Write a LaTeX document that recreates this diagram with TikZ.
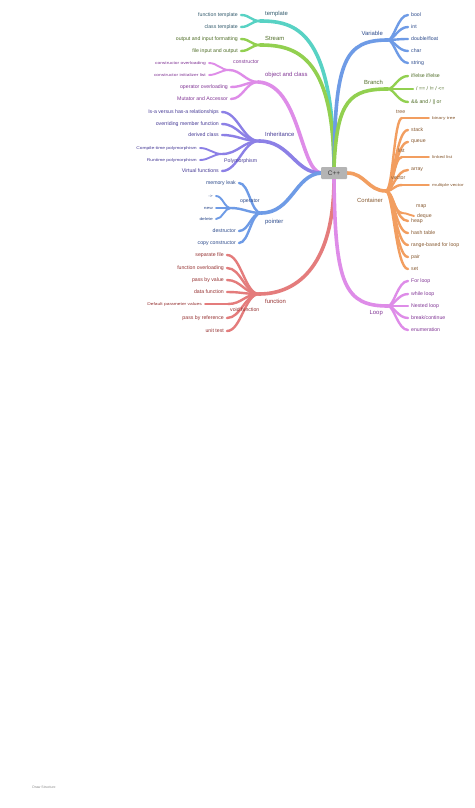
\documentclass[tikz,border=0pt]{standalone}
\usepackage{fontspec}
\setmainfont{Liberation Sans}
\newfontfamily\widesans[FakeStretch=1.25]{Liberation Sans}
\definecolor{cT}{RGB}{88,210,196}
\definecolor{cG}{RGB}{146,208,80}
\definecolor{cV}{RGB}{222,140,232}
\definecolor{cP}{RGB}{140,128,230}
\definecolor{cB}{RGB}{110,155,230}
\definecolor{cR}{RGB}{228,124,124}
\definecolor{cO}{RGB}{242,158,96}
\definecolor{tT}{RGB}{52,92,110}
\definecolor{tG}{RGB}{80,110,40}
\definecolor{tV}{RGB}{130,55,150}
\definecolor{tP}{RGB}{70,58,150}
\definecolor{tB}{RGB}{45,75,140}
\definecolor{tR}{RGB}{150,50,50}
\definecolor{tO}{RGB}{135,90,50}
\definecolor{cppfill}{RGB}{180,180,180}
\definecolor{cpptext}{RGB}{60,60,60}
\pgfdeclarelayer{back}
\pgfdeclarelayer{bg}
\pgfsetlayers{back,bg,main}
\begin{document}
\begin{tikzpicture}[x=1pt,y=-1pt,
  kidtext/.style={font=\fontsize{5.2}{6}\selectfont, inner ysep=0.5pt, inner xsep=3pt},
  smalltext/.style={font=\widesans\fontsize{3.9}{4.5}\selectfont, inner ysep=0.5pt, inner xsep=3pt},
  lk/.style={kidtext, anchor=east},
  rk/.style={kidtext, anchor=west},
  lks/.style={smalltext, anchor=east},
  rks/.style={smalltext, anchor=west},
  hl/.style={font=\fontsize{5.9}{7}\selectfont, inner sep=0pt},
  sl/.style={font=\fontsize{5.2}{6}\selectfont, inner sep=0pt},
  mainline/.style={line width=3.6pt, line cap=round},
  kidline/.style={line width=2.4pt, line cap=round},
  subline/.style={line width=1.9pt, line cap=round}]
\begin{pgfonlayer}{back}
\path[fill=white] (0,0) rectangle (474,808);
\end{pgfonlayer}

% centre
\node[fill=cppfill, rounded corners=1pt, minimum width=26pt, minimum height=12pt,
      inner sep=0pt, text=cpptext, font=\fontsize{6.5}{7}\selectfont] (cpp) at (334,173) {C++};

% hubs
\coordinate (tH) at (260,21);
\coordinate (sH) at (260,45);
\coordinate (oH) at (258,82);
\coordinate (ocH) at (229,70);
\coordinate (iH) at (259,141);
\coordinate (ipH) at (222,154);
\coordinate (pH) at (261,213);
\coordinate (poH) at (231,208);
\coordinate (fH) at (259,294);
\coordinate (fvH) at (228,304);
\coordinate (vH) at (388,40);
\coordinate (bH) at (388,89);
\coordinate (cH) at (386,191);
\coordinate (ctH) at (402,118);
\coordinate (clH) at (402,157);
\coordinate (cvH) at (402,185);
\coordinate (cmH) at (402,213);
\coordinate (lH) at (388,306);

% ---------- left side ----------
% template
\node[lk,text=tT] (t1) at (241,15) {function template};
\node[lk,text=tT] (t2) at (241,27) {class template};
\node[hl,text=tT,anchor=west] (tL) at (265,14) {template};
% Stream
\node[lk,text=tG] (s1) at (241,39) {output and input formatting};
\node[lk,text=tG] (s2) at (241,51) {file input and output};
\node[hl,text=tG,anchor=west] (sL) at (265,38) {Stream};
% object and class
\node[lks,text=tV] (oc1) at (209,63) {constructor overloading};
\node[lks,text=tV] (oc2) at (209,75) {constructor initializer list};
\node[sl,text=tV,anchor=west] (ocL) at (233,62) {constructor};
\node[lk,text=tV] (o2) at (231,87) {operator overloading};
\node[lk,text=tV] (o3) at (231,99) {Mutator and Accessor};
\node[hl,text=tV,anchor=west] (oL) at (265,75) {object and class};
% Inheritance
\node[lk,text=tP] (i1) at (222,112) {Is-a versus has-a relationships};
\node[lk,text=tP] (i2) at (222,124) {overriding member function};
\node[lk,text=tP] (i3) at (222,135) {derived class};
\node[lks,text=tP] (ip1) at (200,148) {Compile-time polymorphism};
\node[lks,text=tP] (ip2) at (200,160) {Runtime polymorphism};
\node[sl,text=tP,anchor=west] (ipL) at (224,161) {Polymorphism};
\node[lk,text=tP] (i4) at (222,171) {Virtual functions};
\node[hl,text=tP,anchor=west] (iL) at (265,134) {Inheritance};
% pointer
\node[lk,text=tB] (p1) at (239,183) {memory leak};
\node[lks,text=tB] (po1) at (216,196) {->};
\node[lks,text=tB] (po2) at (216,208) {new};
\node[lks,text=tB] (po3) at (216,219) {delete};
\node[sl,text=tB,anchor=west] (poL) at (240,201) {operator};
\node[lk,text=tB] (p2) at (239,231) {destructor};
\node[lk,text=tB] (p3) at (239,243) {copy constructor};
\node[hl,text=tB,anchor=west] (pL) at (265,222) {pointer};
% function
\node[lk,text=tR] (f1) at (227,255) {separate file};
\node[lk,text=tR] (f2) at (227,268) {function overloading};
\node[lk,text=tR] (f3) at (227,280) {pass by value};
\node[lk,text=tR] (f4) at (227,292) {data function};
\node[lks,text=tR] (fv1) at (205,304) {Default parameter values};
\node[sl,text=tR,anchor=west] (fvL) at (230,310) {void function};
\node[lk,text=tR] (f5) at (227,318) {pass by reference};
\node[lk,text=tR] (f6) at (227,331) {unit test};
\node[hl,text=tR,anchor=west] (fL) at (265,301) {function};

% ---------- right side ----------
% Variable
\node[rk,text=tB] (v1) at (408,15) {bool};
\node[rk,text=tB] (v2) at (408,27) {int};
\node[rk,text=tB] (v3) at (408,39) {double/float};
\node[rk,text=tB] (v4) at (408,51) {char};
\node[rk,text=tB] (v5) at (408,63) {string};
\node[hl,text=tB,anchor=east] (vL) at (383,33) {Variable};
% Branch
\node[rk,text=tG] (b1) at (408,76) {if/else if/else};
\node[rk,text=tG] (b2) at (413,89) {/ == / != / <=};
\node[rk,text=tG] (b3) at (408,102) {\&\& and / || or};
\node[hl,text=tG,anchor=east] (bL) at (383,82) {Branch};
% Container
\node[sl,text=tO,anchor=west] (ctL) at (396,112) {tree};
\node[rks,text=tO] (k1) at (429,118) {binary tree};
\node[rk,text=tO] (k2) at (408,130) {stack};
\node[rk,text=tO] (k3) at (408,142) {queue};
\node[sl,text=tO,anchor=west] (clL) at (398,151) {list};
\node[rks,text=tO] (k4) at (429,157) {linked list};
\node[rk,text=tO] (k5) at (408,170) {array};
\node[sl,text=tO,anchor=west] (cvL) at (391,178) {vector};
\node[rks,text=tO] (k6) at (429,185) {multiple vector};
\node[sl,text=tO,anchor=west] (cmL) at (416,207) {map};
\node[rk,text=tO] (k7) at (414,216) {deque};
\node[rk,text=tO] (k8) at (408,221) {heap};
\node[rk,text=tO] (k9) at (408,233) {hash table};
\node[rk,text=tO] (k10) at (408,245) {range-based for loop};
\node[rk,text=tO] (k11) at (408,257) {pair};
\node[rk,text=tO] (k12) at (408,269) {set};
\node[hl,text=tO,anchor=east] (cL) at (383,200) {Container};
% Loop
\node[rk,text=tV] (l1) at (408,281) {For loop};
\node[rk,text=tV] (l2) at (408,294) {while loop};
\node[rk,text=tV] (l3) at (408,306) {Nested loop};
\node[rk,text=tV] (l4) at (408,318) {break/continue};
\node[rk,text=tV] (l5) at (408,330) {enumeration};
\node[hl,text=tV,anchor=east] (lL) at (383,313) {Loop};

% footer
\node[font=\fontsize{3.5}{4}\selectfont, text=black!45, inner sep=0pt] (foot) at (44,787) {Draw Structure};

% ---------- connectors ----------
\begin{pgfonlayer}{bg}
% main branches
\draw[mainline,cT] (cpp.north) .. controls (333,30) and (295,21) .. (tH);
\draw[mainline,cG] (cpp.north) .. controls (333,55) and (295,45) .. (sH);
\draw[mainline,cV] (cpp.west) .. controls (300,170) and (300,84) .. (oH);
\draw[mainline,cP] (cpp.west) .. controls (295,173) and (290,141) .. (iH);
\draw[mainline,cB] (cpp.west) .. controls (295,175) and (292,213) .. (pH);
\draw[mainline,cR] (cpp.south) .. controls (334,262) and (300,294) .. (fH);
\draw[mainline,cB] (cpp.north) .. controls (335,60) and (345,40) .. (vH);
\draw[mainline,cG] (cpp.north) .. controls (337,100) and (350,89) .. (bH);
\draw[mainline,cO] (cpp.east) .. controls (365,173) and (368,191) .. (cH);
\draw[mainline,cV] (cpp.south) .. controls (335,285) and (345,306) .. (lH);

% left children
\foreach \c in {t1,t2} \draw[kidline,cT] (tH) .. controls +(-9,0) and +(9,0) .. (\c.east);
\foreach \c in {s1,s2} \draw[kidline,cG] (sH) .. controls +(-9,0) and +(9,0) .. (\c.east);
\foreach \c in {o2,o3} \draw[kidline,cV] (oH) .. controls +(-12,0) and +(12,0) .. (\c.east);
\draw[kidline,cV] (oH) .. controls +(-12,0) and +(12,0) .. (ocH);
\foreach \c in {oc1,oc2} \draw[subline,cV] (ocH) .. controls +(-8,0) and +(8,0) .. (\c.east);
\foreach \c in {i1,i2,i3,i4} \draw[kidline,cP] (iH) .. controls +(-16,0) and +(16,0) .. (\c.east);
\draw[kidline,cP] (iH) .. controls +(-16,0) and +(16,0) .. (ipH);
\foreach \c in {ip1,ip2} \draw[subline,cP] (ipH) .. controls +(-9,0) and +(9,0) .. (\c.east);
\foreach \c in {p1,p2,p3} \draw[kidline,cB] (pH) .. controls +(-10,0) and +(10,0) .. (\c.east);
\draw[kidline,cB] (pH) .. controls +(-12,0) and +(12,0) .. (poH);
\foreach \c in {po1,po2,po3} \draw[subline,cB] (poH) .. controls +(-7,0) and +(7,0) .. (\c.east);
\foreach \c in {f1,f2,f3,f4,f5,f6} \draw[kidline,cR] (fH) .. controls +(-14,0) and +(14,0) .. (\c.east);
\draw[kidline,cR] (fH) .. controls +(-14,0) and +(14,0) .. (fvH);
\draw[subline,cR] (fvH) -- (fv1.east);

% right children
\foreach \c in {v1,v2,v3,v4,v5} \draw[kidline,cB] (vH) .. controls +(6,0) and +(-10,0) .. (\c.west);
\foreach \c in {b1,b2,b3} \draw[kidline,cG] (bH) .. controls +(6,0) and +(-10,0) .. (\c.west);
\foreach \c in {k2,k3,k5,k8,k9,k10,k11,k12} \draw[kidline,cO] (cH) .. controls +(7,0) and +(-12,0) .. (\c.west);
\foreach \h in {ctH,clH,cvH,cmH} \draw[kidline,cO] (cH) .. controls +(7,0) and +(-8,0) .. (\h);
\draw[subline,cO] (ctH) -- (k1.west);
\draw[subline,cO] (clH) -- (k4.west);
\draw[subline,cO] (cvH) -- (k6.west);
\draw[subline,cO] (cmH) .. controls +(6,0) and +(-4,0) .. (k7.west);
\foreach \c in {l1,l2,l3,l4,l5} \draw[kidline,cV] (lH) .. controls +(6,0) and +(-10,0) .. (\c.west);
\end{pgfonlayer}
\end{tikzpicture}
\end{document}
